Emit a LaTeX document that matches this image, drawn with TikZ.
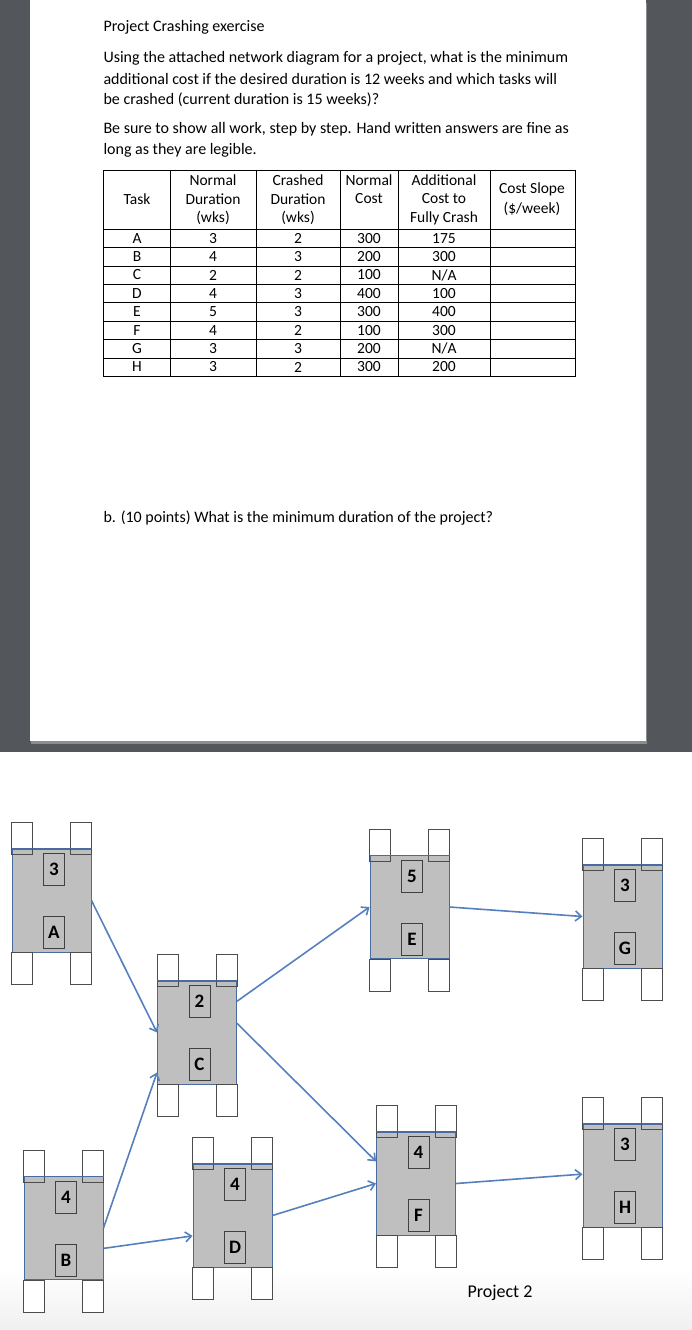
\documentclass[tikz,border=0pt]{standalone}
\usepackage{fontspec}
\setmainfont{Carlito}
\usetikzlibrary{calc, arrows.meta}

\definecolor{deskgray}{HTML}{53575B}
\definecolor{boxgray}{HTML}{BFBFBF}
\definecolor{edgeblue}{HTML}{4A6B9E}
\definecolor{linkblue}{HTML}{5580BE}

\begin{document}
\begin{tikzpicture}[x=1pt, y=-1pt,
   task/.style={rectangle, draw=edgeblue, fill=boxgray, line width=1pt,
                minimum width=79pt, minimum height=103pt, inner sep=0pt},
   tag/.style={rectangle, draw=black!75, fill=boxgray, line width=0.8pt,
               minimum width=21pt, minimum height=32pt, inner sep=0pt,
               font=\fontsize{19}{19}\selectfont\bfseries},
   tab/.style={draw=black!70, line width=0.8pt},
   link/.style={draw=linkblue, line width=1.6pt, -{Straight Barb[length=6pt, width=10pt]}},
   body/.style={anchor=west, font=\fontsize{16}{16}\selectfont},
   cell/.style={font=\fontsize{15.5}{15.5}\selectfont}]
  % frame and page
  \useasboundingbox (0,0) rectangle (692,1330);
  \shade[top color=white, bottom color=black!6] (0,1270) rectangle (692,1330);
  \fill[deskgray] (0,0) rectangle (692,752);
  \fill[black!45] (31,3) rectangle (647,744);
  \fill[white] (30,0) rectangle (646,741);

  % question text
  \node[body] (title) at (100,27)  {Project Crashing exercise};
  \node[body] (q1)    at (100,58)  {Using the attached network diagram for a project, what is the minimum};
  \node[body] (q2)    at (100,79)  {additional cost if the desired duration is 12 weeks and which tasks will};
  \node[body] (q3)    at (100,100) {be crashed (current duration is 15 weeks)?};
  \node[body] (q4)    at (100,129) {Be sure to show all work, step by step. Hand written answers are fine as};
  \node[body] (q5)    at (100,150) {long as they are legible.};

  % table grid
  \draw[line width=0.8pt] (103,170) rectangle (575,376);
  \draw[line width=0.8pt] (103,229) -- (575,229);
  \foreach \y in {247.4,265.8,284.2,302.6,321,339.4,357.8}
    \draw[line width=0.6pt] (103,\y) -- (575,\y);
  \foreach \x in {170,256,340,398,490}
    \draw[line width=0.6pt] (\x,170) -- (\x,376);

  % table header
  \node[cell] (hTask) at (137,199) {Task};
  \node[cell] at (213,180) {Normal};
  \node[cell] at (213,199) {Duration};
  \node[cell] at (213,218) {(wks)};
  \node[cell] at (298,180) {Crashed};
  \node[cell] at (298,199) {Duration};
  \node[cell] at (298,218) {(wks)};
  \node[cell] at (369,180) {Normal};
  \node[cell] at (369,199) {Cost};
  \node[cell] at (444,180) {Additional};
  \node[cell] at (444,199) {Cost to};
  \node[cell] at (444,218) {Fully Crash};
  \node[cell] at (532,189) {Cost Slope};
  \node[cell] at (532,209) {(\$/week)};

  % table rows
  \foreach \t/\nd/\cd/\nc/\ac [count=\i] in {A/3/2/300/175, B/4/3/200/300, C/2/2/100/N\slash A,
      D/4/3/400/100, E/5/3/300/400, F/4/2/100/300, G/3/3/200/N\slash A, H/3/2/300/200} {
    \pgfmathsetmacro{\ry}{229+18.4*\i-9.2}
    \node[cell] at (137,\ry) {\t};
    \node[cell] at (213,\ry) {\nd};
    \node[cell] at (298,\ry) {\cd};
    \node[cell] at (369,\ry) {\nc};
    \node[cell] at (444,\ry) {\ac};
  }

  \node[body] (qb) at (100,518) {b. (10 points) What is the minimum duration of the project?};

  % network tasks
  \foreach \n/\x/\y/\d in {A/51.5/900.5/3, B/63.5/1228/4, C/197/1032.5/2, D/232.5/1215.5/4,
      E/409.5/907/5, F/416/1183.5/4, G/622.5/916.5/3, H/622.5/1175.5/3} {
    \node[task] (\n) at (\x,\y) {};
    \fill[white] ($(\n.north west)+(0,-26)$) rectangle ++(21,26);
    \fill[white] ($(\n.north east)+(-21,-26)$) rectangle ++(21,26);
    \draw[tab] ($(\n.north west)+(0,-26)$) rectangle ++(21,32);
    \draw[tab] ($(\n.north east)+(-21,-26)$) rectangle ++(21,32);
    \draw[tab, fill=white] (\n.south west) rectangle ++(21,32);
    \draw[tab, fill=white] ($(\n.south east)+(-21,0)$) rectangle ++(21,32);
    \draw[edgeblue, line width=1pt] (\n.north west) -- (\n.north east);
    \node[tag] (\n num) at ($(\n.north)+(2.5,21)$) {\d};
    \node[tag] (\n lab) at ($(\n.south)+(2.5,-20)$) {\n};
  }

  % precedence links
  \draw[link] (A.east) -- (C.west);
  \draw[link] (B.east) -- (C.225);
  \draw[link] (B.333) -- (D.207);
  \draw[link] (C.38) -- (E.west);
  \draw[link] (C.13) -- (F.151);
  \draw[link] (D.east) -- (F.west);
  \draw[link] (E.east) -- (G.west);
  \draw[link] (F.east) -- (H.178);

  \node[font=\fontsize{18}{18}\selectfont] (proj) at (500,1293) {Project 2};
\end{tikzpicture}
\end{document}
